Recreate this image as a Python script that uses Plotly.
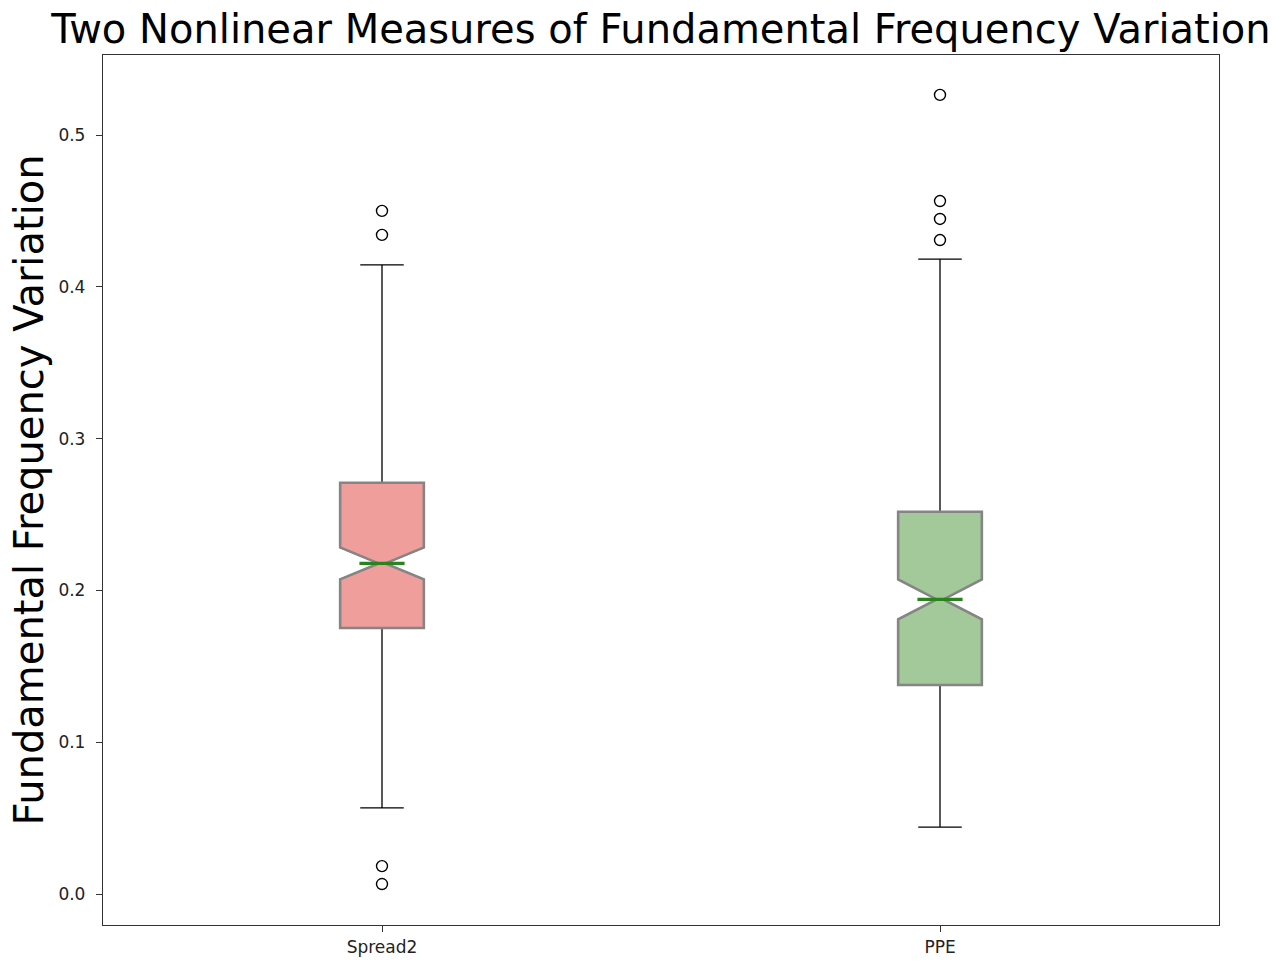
import plotly.graph_objects as go

# ---- data ----
categories = ["Spread2", "PPE"]
positions = [0, 1]
q1 = [0.1752, 0.1377]
median = [0.2178, 0.1941]
q3 = [0.2709, 0.2518]
lower_whisker = [0.0567, 0.0441]
upper_whisker = [0.4144, 0.4183]
notch_half = [0.0105, 0.0132]
outliers_spread2 = [0.4500, 0.4342, 0.0184, 0.0066]
outliers_ppe = [0.5264, 0.4565, 0.4447, 0.4308]
outliers = [outliers_spread2, outliers_ppe]
fill_colors = ["#f09e9c", "#a3c99a"]

BOX_W = 0.15
NOTCH_W = 0.46

fig = go.Figure()

for i, cat in enumerate(categories):
    # whiskers (black) drawn with a box trace underneath
    fig.add_trace(go.Box(
        x=[positions[i]], q1=[q1[i]], median=[median[i]], q3=[q3[i]],
        lowerfence=[lower_whisker[i]], upperfence=[upper_whisker[i]],
        notched=True, notchspan=[notch_half[i]], notchwidth=NOTCH_W,
        width=BOX_W, whiskerwidth=0.52,
        fillcolor="white", line=dict(color="black", width=1.3),
        boxpoints=False, showlegend=False, hoverinfo="skip",
    ))
    # coloured box on top
    fig.add_trace(go.Box(
        x=[positions[i]], q1=[q1[i]], median=[median[i]], q3=[q3[i]],
        lowerfence=[q1[i]], upperfence=[q3[i]],
        notched=True, notchspan=[notch_half[i]], notchwidth=NOTCH_W,
        width=BOX_W, whiskerwidth=0,
        fillcolor=fill_colors[i], line=dict(color="#858585", width=2.6),
        boxpoints=False, showlegend=False, hoverinfo="skip",
    ))
    # green median line over the notch waist
    half_narrow = BOX_W / 2 * (1 - NOTCH_W)
    fig.add_trace(go.Scatter(
        x=[positions[i] - half_narrow, positions[i] + half_narrow],
        y=[median[i], median[i]], mode="lines",
        line=dict(color="#2a841e", width=3.2),
        showlegend=False, hoverinfo="skip",
    ))
    # outliers
    fig.add_trace(go.Scatter(
        x=[positions[i]] * len(outliers[i]), y=outliers[i], mode="markers",
        marker=dict(symbol="circle-open", size=11, color="black", line=dict(width=1.4)),
        showlegend=False, hoverinfo="skip",
    ))

W, H = 1282, 966
L, T = 103, 55
PW, PH = 1116, 870
fig.update_layout(
    width=W, height=H,
    paper_bgcolor="white", plot_bgcolor="white",
    margin=dict(l=L, r=W - L - PW, t=T, b=H - T - PH, autoexpand=False),
    boxmode="overlay",
    font=dict(family="DejaVu Sans", color="#222222"),
    title=dict(
        text="Two Nonlinear Measures of Fundamental Frequency Variation",
        font=dict(family="DejaVu Sans", size=40, color="black"),
        x=(L + L + PW) / 2 / W, xanchor="center",
        y=1 - 29 / H, yanchor="middle", yref="container",
    ),
    xaxis=dict(
        range=[-0.5, 1.5], tickmode="array", tickvals=positions, ticktext=categories,
        showgrid=False, zeroline=False, showline=True, mirror=True, automargin=False,
        linecolor="#333333", linewidth=1.3,
        ticks="outside", ticklen=6, tickwidth=1.2, tickcolor="#333333",
        tickfont=dict(family="DejaVu Sans", size=17, color="#222222"),
    ),
    yaxis=dict(
        range=[-0.0204, 0.5527], tickmode="array",
        tickvals=[0.0, 0.1, 0.2, 0.3, 0.4, 0.5],
        ticktext=["0.0", "0.1", "0.2", "0.3", "0.4", "0.5"],
        showgrid=False, zeroline=False, showline=True, mirror=True, automargin=False,
        linecolor="#333333", linewidth=1.3,
        ticks="outside", ticklen=6, tickwidth=1.2, tickcolor="#333333",
        ticklabelstandoff=7,
        tickfont=dict(family="DejaVu Sans", size=17, color="#222222"),
        title=dict(text="Fundamental Frequency Variation",
                   font=dict(family="DejaVu Sans", size=40, color="black"),
                   standoff=2),
    ),
)

post = (
    "document.documentElement.style.margin='0';"
    "document.documentElement.style.padding='0';"
    "document.documentElement.style.overflow='hidden';"
    "document.body.style.margin='0';"
    "document.body.style.padding='0';"
    "document.body.style.overflow='hidden';"
)
fig.write_html("out.html", post_script=post, config={"displayModeBar": False})
